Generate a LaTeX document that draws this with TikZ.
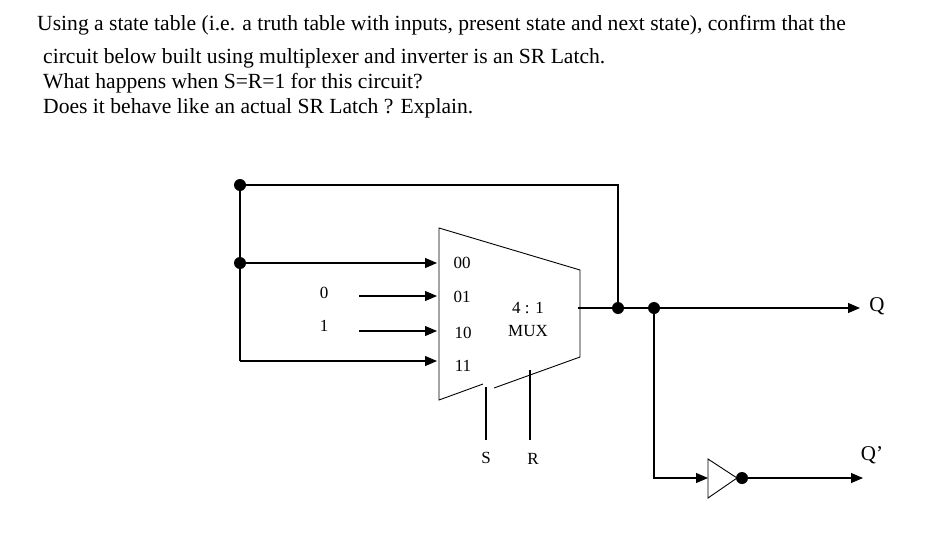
\documentclass[tikz,border=0pt]{standalone}
\usepackage{fontspec}
\setmainfont{Liberation Serif}
\usetikzlibrary{arrows.meta}
\begin{document}
\begin{tikzpicture}[x=1pt,y=-1pt,
  wire/.style={line width=1.1pt},
  arr/.style={wire,-{Triangle[length=12pt,width=10pt]}},
  dot/.style={circle,fill,inner sep=0pt,minimum size=12pt},
  txt/.style={font=\fontsize{21.6}{24}\selectfont,anchor=west,inner sep=0pt},
  lbl/.style={font=\fontsize{17}{18}\selectfont,inner sep=0pt}]
\useasboundingbox (0,0) rectangle (950,552);
\node[txt] (t1) at (37,25) {Using a state table (i.e. a truth table with inputs, present state and next state), confirm that the};
\node[txt] (t2) at (43,58) {circuit below built using multiplexer and inverter is an SR Latch.};
\node[txt] (t3) at (43,83) {What happens when S=R=1 for this circuit?};
\node[txt] (t4) at (43,108) {Does it behave like an actual SR Latch ? Explain.};
% mux
\draw[line width=0.9pt] (483,384) -- (439,400) -- (439,228) -- (580,270) -- (580,357) -- (494,388);
\node[lbl] at (462,263) {00};
\node[lbl] at (462,297) {01};
\node[lbl] at (463,333) {10};
\node[lbl] at (463,366) {11};
\node[lbl] at (528,308) {4 : 1};
\node[lbl] at (528,331) {MUX};
\node[lbl] at (324,293) {0};
\node[lbl] at (324,326) {1};
\coordinate (sT) at (486,387); \coordinate (sB) at (486,440);
\coordinate (rT) at (530,370); \coordinate (rB) at (530,440);
\draw[wire] (sT) -- (sB); \draw[wire] (rT) -- (rB);
\node[lbl] (S) at (486,458) {S};
\node[lbl] (R) at (533,459) {R};
% dots
\node[dot] (d1) at (240,185) {};
\node[dot] (d2) at (240,263) {};
\node[dot] (d3) at (618,308) {};
\node[dot] (d4) at (654,308) {};
\coordinate (mo) at (578,308);
\coordinate (in00) at (437,263);
\coordinate (in01) at (437,296);
\coordinate (in10) at (437,331);
\coordinate (in11) at (437,361);
\draw[wire] (d1.center) -- (618,185) -- (d3.center);
\draw[wire] (d1.center) -- (240,361);
\draw[arr] (240,361) -- (in11);
\draw[arr] (d2.center) -- (in00);
\draw[arr] (359,296) -- (in01);
\draw[arr] (359,331) -- (in10);
\coordinate (qo) at (860,308);
\draw[wire] (mo) -- (d3.center) -- (d4.center);
\draw[arr] (d4.center) -- (qo);
\node[lbl,font=\fontsize{21}{22}\selectfont] (Q) at (877,306) {Q};
\node[lbl,font=\fontsize{21}{22}\selectfont] (Qp) at (872,455) {Q’};
% inverter
\coordinate (invIn) at (708,478);
\draw[arr] (d4.center) -- (654,478) -- (invIn);
\draw[line width=0.9pt] (708,459) -- (708,498) -- (737,478) -- cycle;
\node[dot] (b) at (742,478) {};
\draw[arr] (b.center) -- (863,478);
\end{tikzpicture}
\end{document}
